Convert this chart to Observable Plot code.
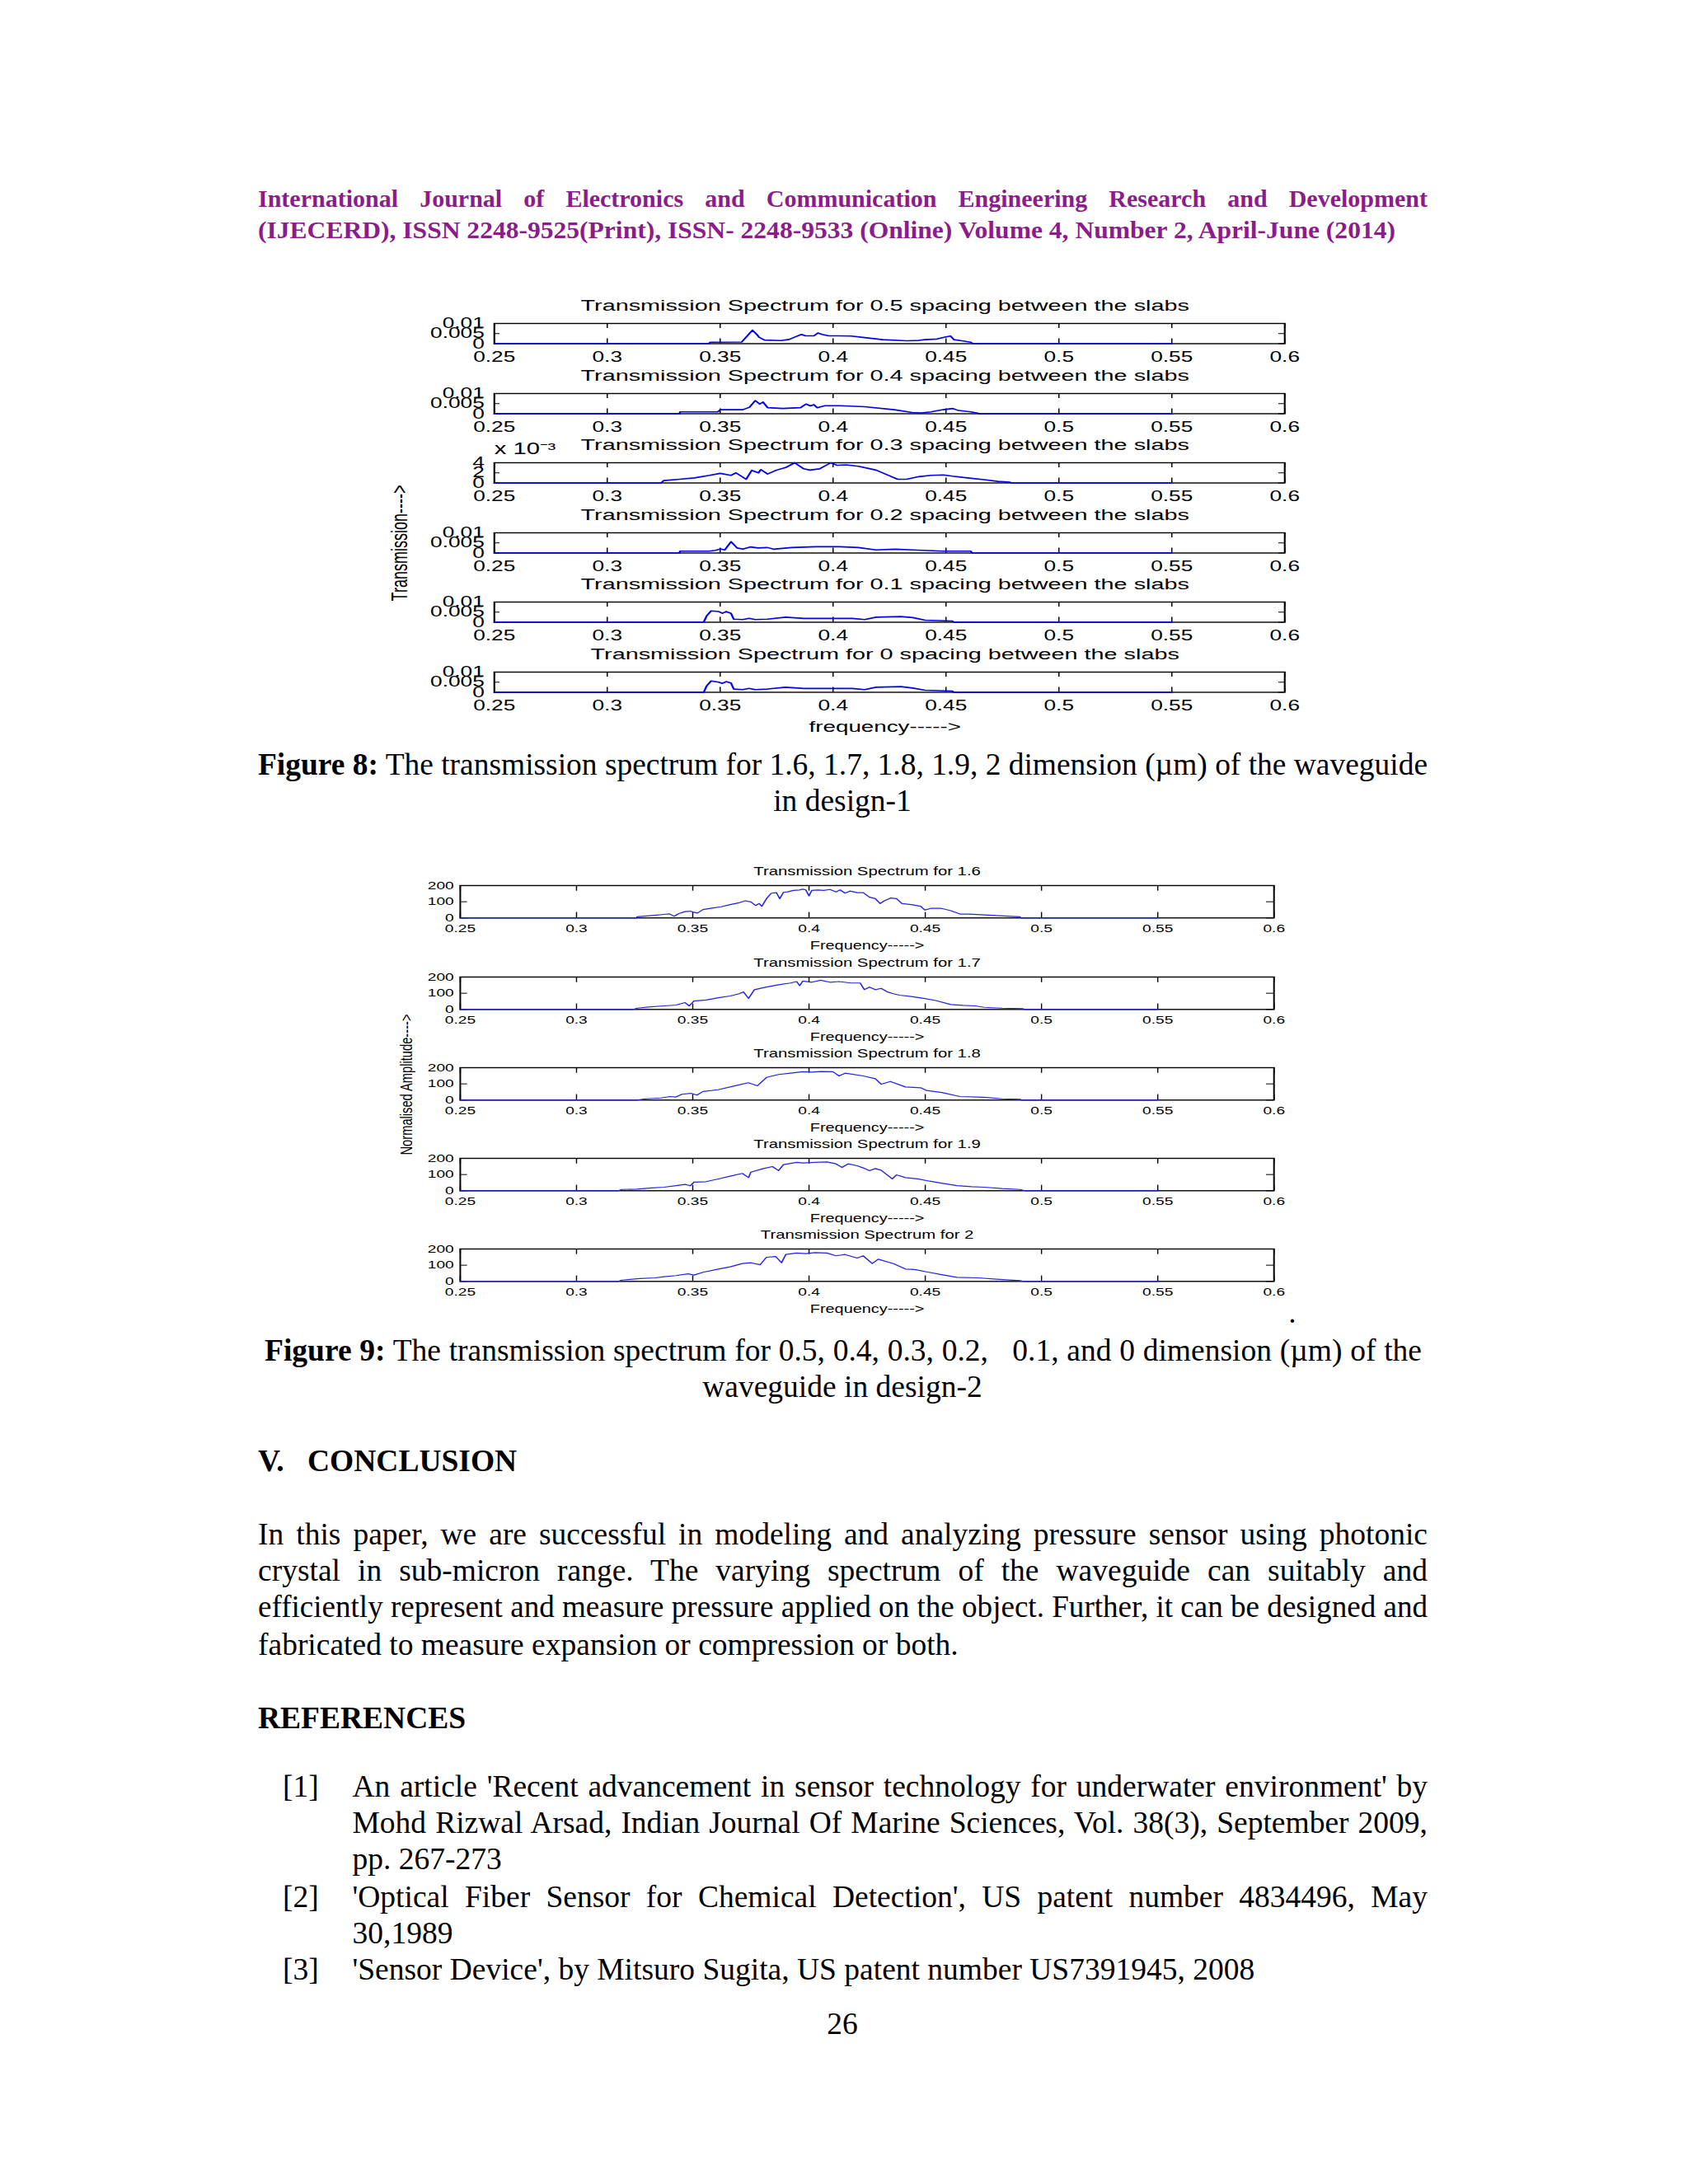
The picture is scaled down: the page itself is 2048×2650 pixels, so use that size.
<!DOCTYPE html>
<html><head><meta charset="utf-8">
<script src="https://cdn.jsdelivr.net/npm/d3@7"></script>
<script src="https://cdn.jsdelivr.net/npm/@observablehq/plot@0.6"></script>
<style>
html,body{margin:0;padding:0;background:#fff;}
#page{position:relative;width:2048px;height:2650px;background:#fff;overflow:hidden;}
.ln{position:absolute;white-space:pre;line-height:1.15;font-family:'Liberation Serif','Times New Roman',serif;color:#000;}
.pw{position:absolute;transform-origin:0 0;}
.pw svg{display:block;overflow:visible;max-width:none;}
.yl{position:absolute;transform-origin:0 0;white-space:pre;font-family:'Liberation Sans',Arial,sans-serif;line-height:1;color:#000;}
</style></head><body><div id="page"></div><script>
// ---------- data ----------
const freqTicks = [0.25, 0.3, 0.35, 0.4, 0.45, 0.5, 0.55, 0.6];
const f8YTicks = [0, 0.005, 0.01];
const f8YTicks3 = [0, 2, 4];           // x 10^-3
const f9YTicks = [0, 100, 200];

const f8Titles = [
  "Transmission Spectrum for 0.5 spacing between the slabs",
  "Transmission Spectrum for 0.4 spacing between the slabs",
  "Transmission Spectrum for 0.3 spacing between the slabs",
  "Transmission Spectrum for 0.2 spacing between the slabs",
  "Transmission Spectrum for 0.1 spacing between the slabs",
  "Transmission Spectrum for 0 spacing between the slabs"
];
const f9Titles = [
  "Transmission Spectrum for 1.6",
  "Transmission Spectrum for 1.7",
  "Transmission Spectrum for 1.8",
  "Transmission Spectrum for 1.9",
  "Transmission Spectrum for 2"
];

// Figure 8 series (frequency, transmission)
const s05x = [0.25,0.345,0.3455,0.3595,0.3643,0.3662,0.3672,0.3696,0.3769,0.3805,0.3836,0.386,0.3878,0.3915,0.3933,0.3951,0.3982,0.408,0.414,0.422,0.4325,0.438,0.4405,0.446,0.450,0.452,0.4535,0.457,0.461,0.462,0.55];
const s05y = [0,0,0.0007,0.0008,0.0067,0.0046,0.0032,0.0018,0.0015,0.0021,0.0035,0.0046,0.0039,0.0039,0.0053,0.0046,0.0039,0.0038,0.003,0.002,0.0014,0.0016,0.002,0.0023,0.0034,0.0038,0.002,0.0014,0.0007,0,0];
const s04x = [0.25,0.332,0.3322,0.349,0.35,0.36,0.363,0.3655,0.3675,0.369,0.371,0.3776,0.3856,0.388,0.390,0.3915,0.393,0.3964,0.403,0.414,0.427,0.435,0.439,0.4434,0.4488,0.453,0.4555,0.461,0.4635,0.465,0.55];
const s04y = [0,0,0.0009,0.0009,0.002,0.002,0.0032,0.0065,0.0048,0.0058,0.003,0.0026,0.003,0.0048,0.0039,0.0045,0.003,0.004,0.004,0.0035,0.002,0.0006,0.0004,0.0009,0.002,0.0026,0.0016,0.0009,0.0004,0,0];
const s03x = [0.25,0.3238,0.325,0.332,0.3386,0.3453,0.35,0.3547,0.357,0.3615,0.364,0.367,0.368,0.371,0.375,0.379,0.383,0.387,0.3897,0.394,0.399,0.4018,0.4058,0.4112,0.419,0.4246,0.4286,0.4326,0.438,0.4434,0.4488,0.4528,0.4595,0.4676,0.473,0.4783,0.479,0.55];
const s03y = [0,0,0.47,0.73,1.0,1.5,1.9,1.5,2.0,0.73,2.5,2.0,2.65,1.77,2.55,3.06,4.0,2.8,2.55,2.8,4.0,3.5,3.6,3.3,2.55,1.5,0.73,0.73,1.25,1.5,1.6,1.35,1.0,0.62,0.31,0.16,0,0];
const s02x = [0.25,0.332,0.3322,0.345,0.348,0.35,0.352,0.3548,0.3575,0.36,0.3633,0.3668,0.371,0.3736,0.3816,0.3924,0.403,0.4112,0.419,0.4273,0.4353,0.4488,0.461,0.4615,0.55];
const s02y = [0,0,0.0009,0.0009,0.0013,0.002,0.0015,0.0056,0.0025,0.0019,0.003,0.0025,0.0027,0.0019,0.0027,0.0031,0.0031,0.0027,0.0015,0.0019,0.0015,0.0009,0.0009,0,0];
const s01x = [0.25,0.3427,0.344,0.346,0.3494,0.351,0.3526,0.3548,0.356,0.36,0.3628,0.3655,0.371,0.379,0.387,0.4085,0.414,0.419,0.43,0.4353,0.4407,0.4528,0.4535,0.55];
const s01y = [0,0,0.0031,0.0056,0.0053,0.0044,0.0053,0.0044,0.0015,0.0013,0.0019,0.0013,0.0015,0.0025,0.0019,0.0019,0.0013,0.0025,0.0028,0.0023,0.001,0.0006,0,0];
const s00x = [0.25,0.3427,0.344,0.346,0.3494,0.351,0.3526,0.3548,0.356,0.36,0.3628,0.3655,0.371,0.379,0.387,0.4085,0.414,0.419,0.43,0.4353,0.4407,0.4528,0.4535,0.55];
const s00y = [0,0,0.0031,0.0056,0.005,0.0044,0.0053,0.0046,0.0016,0.0013,0.0019,0.0013,0.0016,0.0025,0.0019,0.0019,0.0013,0.0025,0.0028,0.0021,0.001,0.0006,0,0];

// Figure 9 series (frequency, normalised amplitude)
const d16x = [0.25,0.3259,0.326,0.3324,0.3376,0.340,0.342,0.344,0.3467,0.349,0.3505,0.352,0.3544,0.3583,0.3622,0.3661,0.370,0.3726,0.375,0.377,0.3786,0.3797,0.3817,0.3838,0.386,0.3874,0.389,0.3908,0.3934,0.396,0.3973,0.3986,0.400,0.4012,0.4038,0.4064,0.409,0.4116,0.4134,0.4155,0.4176,0.4207,0.4233,0.426,0.4285,0.4306,0.4324,0.435,0.4376,0.440,0.444,0.448,0.4498,0.4524,0.457,0.461,0.4649,0.4688,0.474,0.4805,0.487,0.4908,0.491,0.55];
const d16y = [0,0,7,15,22,25,10,27,39,42,35,30,52,61,69,82,94,106,99,77,89,72,119,153,156,119,158,161,170,173,178,173,136,170,173,170,176,161,173,153,166,156,156,128,119,89,106,123,119,89,82,72,49,59,59,45,24,24,20,15,10,7,0,0];
const d17x = [0.25,0.3246,0.326,0.331,0.3376,0.3428,0.3467,0.3485,0.3505,0.3557,0.361,0.3661,0.370,0.3718,0.374,0.3765,0.3817,0.387,0.392,0.3947,0.396,0.3973,0.4012,0.405,0.409,0.413,0.418,0.422,0.4238,0.426,0.4285,0.431,0.4337,0.4363,0.4389,0.444,0.4493,0.4545,0.461,0.4662,0.4714,0.4753,0.483,0.492,0.4925,0.55];
const d17y = [0,0,8,15,22,27,42,22,52,58,72,83,97,108,68,122,138,152,163,172,147,175,168,180,168,172,163,163,122,138,122,130,108,97,88,80,68,55,30,25,22,13,8,5,0,0];
const d18x = [0.25,0.3259,0.3298,0.3363,0.3402,0.3428,0.3453,0.3492,0.3518,0.3544,0.3609,0.3687,0.3739,0.3778,0.3817,0.3869,0.3921,0.3973,0.4012,0.405,0.4103,0.4129,0.4155,0.4233,0.4285,0.4311,0.435,0.4415,0.448,0.4506,0.4571,0.4649,0.4753,0.483,0.4908,0.4914,0.55];
const d18y = [0,0,8,13,22,19,36,42,31,53,64,90,107,88,140,158,166,175,173,176,175,149,166,149,132,98,115,81,76,59,47,22,17,8,5,0,0];
const d19x = [0.25,0.318,0.3194,0.326,0.3324,0.3376,0.3428,0.3467,0.349,0.3505,0.3557,0.361,0.3661,0.3713,0.374,0.375,0.3804,0.3843,0.3869,0.389,0.3947,0.3973,0.4025,0.4077,0.4116,0.4142,0.4168,0.4207,0.4233,0.426,0.4285,0.431,0.4358,0.4376,0.4415,0.4467,0.4519,0.457,0.4636,0.470,0.4753,0.483,0.4908,0.4928,0.55];
const d19y = [0,0,8,10,17,22,31,39,31,53,56,73,90,107,81,115,137,149,124,161,175,171,175,178,166,144,166,154,141,124,137,127,73,98,81,73,59,47,31,25,22,14,8,0,0];
const d20x = [0.25,0.318,0.3194,0.3272,0.3337,0.3376,0.3428,0.348,0.3505,0.3544,0.361,0.3661,0.3713,0.375,0.379,0.3817,0.3856,0.3882,0.39,0.3947,0.3986,0.4025,0.4077,0.4116,0.4155,0.4207,0.4233,0.4272,0.4298,0.4363,0.4415,0.4454,0.4506,0.457,0.4636,0.4727,0.4805,0.4908,0.4922,0.55];
const d20y = [0,0,8,17,22,29,36,47,39,56,76,90,110,115,103,149,154,115,166,175,171,178,175,158,166,144,158,110,137,110,76,73,59,42,25,22,14,5,0,0];

// ---------- helpers ----------
const page = document.getElementById("page");

function panel(c) {
  const data = c.xs.map((x, i) => ({f: x, v: c.ys[i]}));
  const pw = c.Wu - c.ml - c.mr;
  const marks = [
    Plot.ruleX(freqTicks, {insetBottom: c.fh - c.tlx, stroke: "black", strokeWidth: 1}),
    Plot.ruleX(freqTicks, {insetTop: c.fh - c.tlx, stroke: "black", strokeWidth: 1}),
    Plot.ruleY(c.yTicks, {insetRight: pw - c.tly, stroke: "black", strokeWidth: 1}),
    Plot.ruleY(c.yTicks, {insetLeft: pw - c.tly, stroke: "black", strokeWidth: 1}),
    Plot.frame({stroke: "black", strokeWidth: 1.4}),
    Plot.line(data, {x: "f", y: "v", stroke: c.stroke, strokeWidth: c.sw}),
    Plot.text([c.title], {frameAnchor: "top", lineAnchor: "middle", dy: c.titleDy, dx: c.titleDx || 0, fontSize: c.titleSize, fill: "black"})
  ];
  if (c.xlabel) marks.push(Plot.text([c.xlabel], {frameAnchor: "bottom", lineAnchor: "middle", dy: c.xlabelDy, dx: c.titleDx || 0, fontSize: c.xlabelSize, fill: "black"}));
  if (c.exp) marks.push(Plot.text([c.exp], {frameAnchor: "top-left", lineAnchor: "middle", dy: c.expDy, dx: 0, textAnchor: "start", fontSize: c.expSize, fill: "black"}));
  const svg = Plot.plot({
    width: c.Wu, height: c.mt + c.fh + c.mb,
    marginLeft: c.ml, marginRight: c.mr, marginTop: c.mt, marginBottom: c.mb,
    style: {background: "none", fontFamily: "'Liberation Sans', Arial, sans-serif", fontSize: c.tickSize + "px", color: "black", overflow: "visible", maxWidth: "none"},
    x: {domain: [0.25, 0.6], ticks: freqTicks, tickFormat: d => String(d), tickSize: 0, tickPadding: c.padX, label: null},
    y: {domain: c.yDomain, ticks: c.yTicks, tickFormat: d => String(d), tickSize: 0, tickPadding: c.padY, label: null},
    marks
  });
  const wrap = document.createElement("div");
  wrap.className = "pw";
  wrap.style.left = c.X0 + "px";
  wrap.style.top = (c.frameTop - c.mt) + "px";
  wrap.style.transform = `scaleX(${c.s})`;
  wrap.appendChild(svg);
  page.appendChild(wrap);
}

function ylab(text, cx, cy, size, s) {
  const d = document.createElement("div");
  d.className = "yl";
  d.textContent = text;
  d.style.fontSize = size + "px";
  d.style.left = cx + "px";
  d.style.top = cy + "px";
  d.style.transform = `scaleX(${s}) rotate(-90deg) translate(-50%,-50%)`;
  page.appendChild(d);
}

function addLine(segs, o) {
  const d = document.createElement("div");
  d.className = "ln";
  d.style.fontSize = o.size + "px";
  d.style.top = (o.y - 0.575 * o.size) + "px";
  d.style.left = "0px";
  if (o.color) d.style.color = o.color;
  for (const [t, b] of segs) {
    const sp = document.createElement("span");
    sp.textContent = t;
    if (b) sp.style.fontWeight = "bold";
    d.appendChild(sp);
  }
  page.appendChild(d);
  const w = d.getBoundingClientRect().width;
  if (o.right != null) {
    const target = o.right - o.left;
    const n = segs.map(s => s[0]).join("").split(" ").length - 1;
    if (o.justify && w < target && n > 0) d.style.wordSpacing = ((target - w) / n) + "px";
    else { d.style.transformOrigin = "0 0"; d.style.transform = `scaleX(${target / w})`; }
    d.style.left = o.left + "px";
  } else if (o.cx != null) {
    d.style.left = (o.cx - w / 2) + "px";
  } else {
    d.style.left = o.left + "px";
  }
}

// ---------- Figure 8 ----------
const f8Series = [[s05x, s05y], [s04x, s04y], [s03x, s03y], [s02x, s02y], [s01x, s01y], [s00x, s00y]];
const F8 = {X0: 460, s: 1.5, Wu: 760, ml: 92.67, mr: 28, fh: 24.5, mt: 40, tlx: 6, tly: 4.7,
  tickSize: 17.5, titleSize: 19.2, titleDy: -21.5, titleDx: -3.7, padX: 10, padY: 8, stroke: "#0000f0", sw: 1.6};
f8Series.forEach(([xs, ys], i) => {
  const last = i === f8Series.length - 1;
  panel({...F8, xs, ys, frameTop: 392.3 + 84.5 * i, mb: last ? 58 : 30,
    yDomain: i === 2 ? [0, 4] : [0, 0.01], yTicks: i === 2 ? f8YTicks3 : f8YTicks,
    title: f8Titles[i],
    exp: i === 2 ? "x 10\u207B\u00B3" : null, expDy: -16.5, expSize: 19.5,
    xlabel: last ? "frequency----->" : null, xlabelDy: 41.6, xlabelSize: 18.5});
});
ylab("Transmission---->", 485, 659, 18, 1.5);

// ---------- Figure 9 ----------
const f9Series = [[d16x, d16y], [d17x, d17y], [d18x, d18y], [d19x, d19y], [d20x, d20y]];
const F9 = {X0: 460, s: 1.42, Wu: 803, ml: 68.8, mr: 38.9, fh: 39.3, mt: 36, mb: 48, tlx: 6.7, tly: 6.3,
  tickSize: 13.5, titleSize: 14.3, titleDy: -17, padX: 8, padY: 5.4, stroke: "#2424e6", sw: 1.2,
  xlabel: "Frequency----->", xlabelDy: 33.5, xlabelSize: 14, yDomain: [0, 200], yTicks: f9YTicks};
f9Series.forEach(([xs, ys], i) => {
  panel({...F9, xs, ys, frameTop: 1074.3 + 110.2 * i, title: f9Titles[i]});
});
ylab("Normalised Amplitude---->", 493, 1316, 14.7, 1.42);

// ---------- page text ----------
const PURPLE = "#8b1c8b";
const BS = 37.5;
addLine([["International Journal of Electronics and Communication Engineering Research and Development", true]],
  {left: 313, right: 1732, y: 241.6, size: 30, color: PURPLE, justify: true});
addLine([["(IJECERD), ISSN 2248-9525(Print), ISSN- 2248-9533 (Online) Volume 4, Number 2, April-June (2014)", true]],
  {left: 313, right: 1693, y: 278.8, size: 30, color: PURPLE});

addLine([["Figure 8:", true], [" The transmission spectrum for 1.6, 1.7, 1.8, 1.9, 2 dimension (\u00B5m) of the waveguide", false]],
  {left: 313, right: 1732, y: 927.7, size: BS, justify: true});
addLine([["in design-1", false]], {cx: 1022, y: 971.6, size: BS});

addLine([[".", false]], {cx: 1568, y: 1592.7, size: BS});
addLine([["Figure 9:", true], [" The transmission spectrum for 0.5, 0.4, 0.3, 0.2,   0.1, and 0 dimension (\u00B5m) of the", false]],
  {left: 321, right: 1725, y: 1639, size: BS, justify: true});
addLine([["waveguide in design-2", false]], {cx: 1022, y: 1683, size: BS});

addLine([["V.", true]], {left: 313, y: 1772.6, size: BS});
addLine([["CONCLUSION", true]], {left: 373, y: 1772.6, size: BS});

addLine([["In this paper, we are successful in modeling and analyzing pressure sensor using photonic", false]],
  {left: 313, right: 1732, y: 1862, size: BS, justify: true});
addLine([["crystal in sub-micron range. The varying spectrum of the waveguide can suitably and", false]],
  {left: 313, right: 1732, y: 1906, size: BS, justify: true});
addLine([["efficiently represent and measure pressure applied on the object. Further, it can be designed and", false]],
  {left: 313, right: 1732, y: 1950, size: BS, justify: true});
addLine([["fabricated to measure expansion or compression or both.", false]], {left: 313, y: 1995.6, size: BS});

addLine([["REFERENCES", true]], {left: 313, y: 2085, size: BS});

addLine([["[1]", false]], {left: 343, y: 2168, size: BS});
addLine([["An article 'Recent advancement in sensor technology for underwater environment' by", false]],
  {left: 427.5, right: 1732, y: 2168, size: BS, justify: true});
addLine([["Mohd Rizwal Arsad, Indian Journal Of Marine Sciences, Vol. 38(3), September 2009,", false]],
  {left: 427.5, right: 1732, y: 2212, size: BS, justify: true});
addLine([["pp. 267-273", false]], {left: 427.5, y: 2256, size: BS});
addLine([["[2]", false]], {left: 343, y: 2301.5, size: BS});
addLine([["'Optical Fiber Sensor for Chemical Detection', US patent number 4834496, May", false]],
  {left: 427.5, right: 1732, y: 2301.5, size: BS, justify: true});
addLine([["30,1989", false]], {left: 427.5, y: 2345.5, size: BS});
addLine([["[3]", false]], {left: 343, y: 2389.4, size: BS});
addLine([["'Sensor Device', by Mitsuro Sugita, US patent number US7391945, 2008", false]], {left: 427.5, y: 2389.4, size: BS});

addLine([["26", false]], {cx: 1022, y: 2455.2, size: BS});
</script></body></html>
